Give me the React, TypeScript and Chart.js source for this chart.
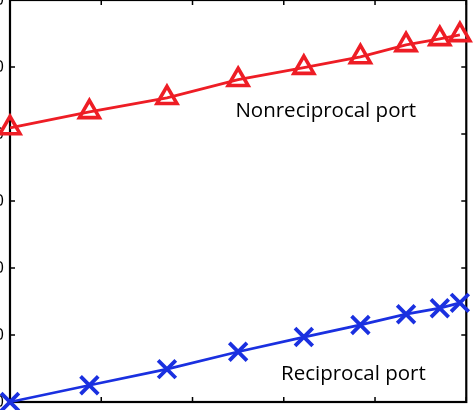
import { useEffect, useRef } from "react"
import { Chart, registerables, type Plugin } from "chart.js"

Chart.register(...registerables)

const xValues = [0, 8.7, 17.2, 25.0, 32.2, 38.4, 43.4, 47.1, 49.3]
const nonreciprocal = [40.9, 43.3, 45.4, 48.1, 49.9, 51.5, 53.3, 54.2, 54.8]
const reciprocal = [0, 2.5, 4.9, 7.5, 9.7, 11.5, 13.1, 14.0, 14.8]
const xTicks = [0, 10, 20, 30, 40, 50]
const yTicks = [0, 10, 20, 30, 40, 50, 60]
const curveLabels = ["Nonreciprocal port", "Reciprocal port"]
const labelX = [24.7, 29.7]
const labelY = [42.5, 3.3]

const RED = "#ee1d25"
const BLUE = "#1a30e0"
const FONT = "'Open Sans', 'Noto Sans', sans-serif"

// box round the plot with inward ticks, like the matlab axes
const framePlugin: Plugin<"line"> = {
  id: "frame",
  beforeDatasetsDraw(chart) {
    const { ctx, chartArea: a, scales } = chart
    const len = 5
    ctx.save()
    ctx.strokeStyle = "#000"
    ctx.lineWidth = 1.5
    ctx.beginPath()
    for (const t of scales.x.ticks) {
      const px = scales.x.getPixelForValue(t.value)
      ctx.moveTo(px, a.bottom)
      ctx.lineTo(px, a.bottom - len)
      ctx.moveTo(px, a.top)
      ctx.lineTo(px, a.top + len)
    }
    for (const t of scales.y.ticks) {
      const py = scales.y.getPixelForValue(t.value)
      ctx.moveTo(a.left, py)
      ctx.lineTo(a.left + len, py)
      ctx.moveTo(a.right, py)
      ctx.lineTo(a.right - len, py)
    }
    ctx.stroke()
    ctx.lineWidth = 2.2
    ctx.strokeRect(a.left, a.top, a.right - a.left, a.bottom - a.top)
    ctx.restore()
  },
  afterDatasetsDraw(chart) {
    const { ctx, scales } = chart
    ctx.save()
    ctx.fillStyle = "#000"
    ctx.font = `20.5px ${FONT}`
    ctx.textBaseline = "alphabetic"
    ctx.textAlign = "left"
    curveLabels.forEach((text, i) => {
      ctx.fillText(text, scales.x.getPixelForValue(labelX[i]), scales.y.getPixelForValue(labelY[i]))
    })
    ctx.restore()
  },
}

export default function App() {
  const chartRef = useRef<HTMLCanvasElement>(null)
  const chartInstance = useRef<Chart | null>(null)

  useEffect(() => {
    if (!chartRef.current) return
    if (chartInstance.current) chartInstance.current.destroy()

    const ctx = chartRef.current.getContext("2d")
    if (!ctx) return

    const series = (ys: number[]) => xValues.map((x, i) => ({ x, y: ys[i] }))

    chartInstance.current = new Chart(ctx, {
      type: "line",
      data: {
        datasets: [
          {
            label: "Nonreciprocal port",
            data: series(nonreciprocal),
            borderColor: RED,
            borderWidth: 2.8,
            pointStyle: "triangle",
            pointRadius: 11.5,
            pointBorderWidth: 3.6,
            pointBorderColor: RED,
            pointBackgroundColor: "rgba(0,0,0,0)",
            tension: 0,
            clip: false,
          },
          {
            label: "Reciprocal port",
            data: series(reciprocal),
            borderColor: BLUE,
            borderWidth: 2.8,
            pointStyle: "crossRot",
            pointRadius: 12.5,
            pointBorderWidth: 3.8,
            pointBorderColor: BLUE,
            pointBackgroundColor: "rgba(0,0,0,0)",
            tension: 0,
            clip: false,
          },
        ],
      },
      options: {
        animation: false,
        responsive: false,
        devicePixelRatio: 1,
        layout: { padding: { left: 0, right: 20, top: 20, bottom: 0 } },
        plugins: {
          legend: { display: false },
          tooltip: { enabled: false },
        },
        scales: {
          x: {
            type: "linear",
            min: 0,
            max: 50,
            grid: { display: false, drawTicks: false },
            border: { display: false },
            afterBuildTicks: (scale) => {
              scale.ticks = xTicks.map((value) => ({ value }))
            },
            afterFit: (scale) => {
              scale.height = 40
            },
            ticks: { padding: 14, color: "#000", font: { family: FONT, size: 17 } },
          },
          y: {
            type: "linear",
            min: 0,
            max: 60,
            grid: { display: false, drawTicks: false },
            border: { display: false },
            afterBuildTicks: (scale) => {
              scale.ticks = yTicks.map((value) => ({ value }))
            },
            afterFit: (scale) => {
              scale.width = 50
            },
            ticks: { padding: 6, color: "#000", font: { family: FONT, size: 17 } },
          },
        },
      },
      plugins: [framePlugin],
    })

    return () => {
      if (chartInstance.current) {
        chartInstance.current.destroy()
        chartInstance.current = null
      }
    }
  }, [])

  return (
    <div style={{ position: "fixed", left: -40, top: -20, width: 530, height: 462, background: "#fff" }}>
      <canvas ref={chartRef} width={530} height={462} style={{ display: "block", width: 530, height: 462 }} />
    </div>
  )
}
